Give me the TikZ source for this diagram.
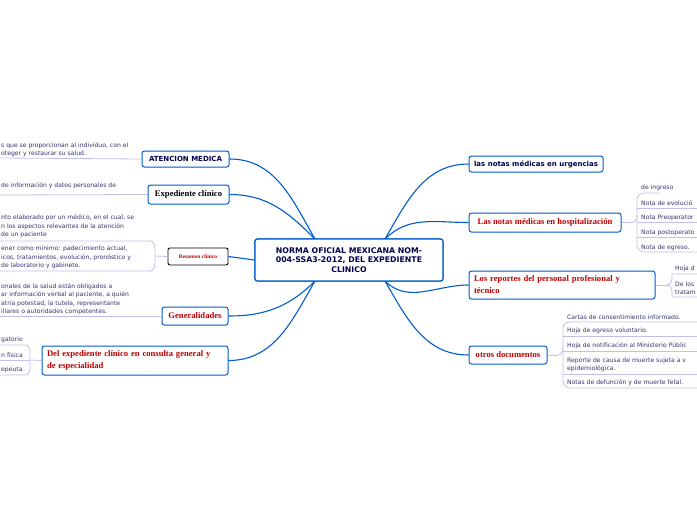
\documentclass[tikz,border=0pt]{standalone}
\usepackage{fontspec}
\setmainfont{DejaVu Sans}
\newfontfamily\serifb{Liberation Serif}
\begin{document}
\begin{tikzpicture}[x=1pt,y=-1pt,
  line/.style={draw=blue!55!cyan!80!black,line width=1.1pt},
  lline/.style={draw=cyan!25!blue!25,line width=0.8pt},
  box/.style={draw=blue!55!cyan!80!black,line width=1pt,rounded corners=2.5pt,fill=white,inner sep=3pt},
  sans/.style={font=\fontsize{7}{8}\selectfont\bfseries,text=blue!30!black},
  red/.style={font=\serifb\fontsize{8.6}{12}\selectfont\bfseries,text=red!75!black,align=left},
  leaf/.style={font=\fontsize{6.1}{8.3}\selectfont,text=blue!30!black!80,anchor=south west,inner sep=1pt,align=left}]
\useasboundingbox (0,0) rectangle (697,520);
% central
\node[box,line width=1.2pt,minimum width=188,minimum height=42,align=center,font=\fontsize{7.8}{9.5}\selectfont\bfseries,text=blue!30!black] (c) at (349,260) {NORMA OFICIAL MEXICANA NOM-\\004-SSA3-2012, DEL EXPEDIENTE\\CLINICO};
\coordinate (ctl) at (315,239);
\coordinate (cbl) at (315,281);
\coordinate (ctr) at (385,239);
\coordinate (cbr) at (385,281);
% left main nodes
\node[box,sans,minimum width=87,minimum height=16] (am) at (185.5,159) {ATENCION MEDICA};
\node[box,font=\serifb\fontsize{8.6}{9}\selectfont\bfseries,minimum width=81,minimum height=19] (ec) at (188.5,194.5) {Expediente clínico};
\node[draw=black,line width=0.9pt,rounded corners=2pt,minimum width=60,minimum height=17,font=\serifb\fontsize{5.5}{6}\selectfont\bfseries,text=red!75!black] (rc) at (198,256.5) {Resumen clínico};
\node[box,red,minimum width=66,minimum height=18] (ge) at (195,316) {Generalidades};
\node[box,red,minimum width=186,minimum height=29,text width=176] (de) at (135,360.5) {Del expediente clínico en consulta general y\\de especialidad};
% right main nodes
\node[box,sans,minimum width=134,minimum height=16] (nu) at (536,164) {las notas médicas en urgencias};
\node[box,red,minimum width=152,minimum height=19] (nh) at (545,222.5) {Las notas médicas en hospitalización};
\node[box,red,minimum width=186,minimum height=28,text width=176] (rp) at (562,285) {Los reportes del personal profesional y\\técnico};
\node[box,red,minimum width=78,minimum height=18] (od) at (508,355) {otros documentos};
% main connectors
\draw[line] (am.east) to[out=0,in=120] (ctl);
\draw[line] (ec.east) to[out=0,in=135] (ctl);
\draw[line] (rc.east) -- (c.west);
\draw[line] (ge.east) to[out=0,in=225] (cbl);
\draw[line] (de.east) to[out=0,in=240] (cbl);
\draw[line] (nu.west) to[out=180,in=60] (ctr);
\draw[line] (nh.west) to[out=180,in=45] (ctr);
\draw[line] (rp.west) to[out=180,in=-45] (cbr);
\draw[line] (od.west) to[out=180,in=-60] (cbr);
\node[box,line width=1.2pt,minimum width=188,minimum height=42,align=center,font=\fontsize{7.8}{9.5}\selectfont\bfseries,text=blue!30!black] at (349,260) {NORMA OFICIAL MEXICANA NOM-\\004-SSA3-2012, DEL EXPEDIENTE\\CLINICO};
% left leaves
\node[leaf] (l1) at (0,158) {s que se proporcionan al individuo, con el\\oteger y restaurar su salud.};
\draw[lline] (l1.south west) -- (am.west);
\node[leaf] (l2) at (0,190) {de información y datos personales de};
\draw[lline] (0,195) -- (ec.west);
\node[leaf] (l3) at (0,239) {nto elaborado por un médico, en el cual, se\\n los aspectos relevantes de la atención\\de un paciente};
\node[leaf] (l4) at (0,270) {ener como mínimo: padecimiento actual,\\icos, tratamientos, evolución, pronóstico y\\de laboratorio y gabinete.};
\draw[lline] (0,271) -- (150,271) to[out=0,in=-90] (155,263) -- (155,249) to[out=90,in=0] (150,241) -- (0,241);
\draw[lline] (155,256) -- (rc.west);
\node[leaf] (l5) at (0,316) {onales de la salud están obligados a\\ar información verbal al paciente, a quién\\atria potestad, la tutela, representante\\illares o autoridades competentes.};
\draw[lline] (0,316) -- (ge.west);
\node[leaf] (l6) at (0,344) {gatorio};
\node[leaf] (l7) at (0,359) {n física};
\node[leaf] (l8) at (0,374) {epeuta};
\draw[lline] (0,345) -- (25,345) to[out=0,in=90] (30,352) -- (30,368) to[out=-90,in=0] (25,375) -- (0,375);
\draw[lline] (0,360) -- (30,360);
\draw[lline] (30,360) -- (de.west);
% right leaves
\foreach \t/\y [count=\i] in {de ingreso/192,Nota de evolució/207,Nota Preoperator/222,Nota postoperato/237,Nota de egreso./252}{
  \node[leaf] (h\i) at (640,\y) {\t};
}
\draw[lline] (nh.east) -- (632,222.5);
\draw[lline] (632,222.5) to[out=0,in=-90] (637,215) -- (637,199) to[out=90,in=180] (645,193) -- (660,193);
\draw[lline] (637,215) -- (637,246) to[out=-90,in=180] (645,252) -- (697,252);
\foreach \y in {208,222,237}{\draw[lline] (637,\y) -- (697,\y);}
\node[leaf] (r1) at (674,273) {Hoja d};
\node[leaf] (r2) at (674,296) {De los\\tratam};
\draw[lline] (rp.east) -- (667,285);
\draw[lline] (667,285) to[out=0,in=-90] (672,279) -- (672,274) -- (697,274);
\draw[lline] (667,285) to[out=0,in=90] (672,290) -- (672,297) -- (697,297);
\node[leaf] (o1) at (566,321) {Cartas de consentimiento informado.};
\node[leaf] (o2) at (566,335) {Hoja de egreso voluntario.};
\node[leaf] (o3) at (566,350) {Hoja de notificación al Ministerio Públic};
\node[leaf] (o4) at (566,373) {Reporte de causa de muerte sujeta a v\\epidemiológica.};
\node[leaf] (o5) at (566,387) {Notas de defunción y de muerte fetal.};
\draw[lline] (od.east) -- (558,355);
\draw[lline] (558,355) to[out=0,in=-90] (563,348) -- (563,328) to[out=90,in=180] (570,322) -- (697,322);
\draw[lline] (563,348) -- (563,381) to[out=-90,in=180] (570,388) -- (697,388);
\foreach \y in {336,351,374}{\draw[lline] (563,\y) -- (697,\y);}
\end{tikzpicture}
\end{document}
